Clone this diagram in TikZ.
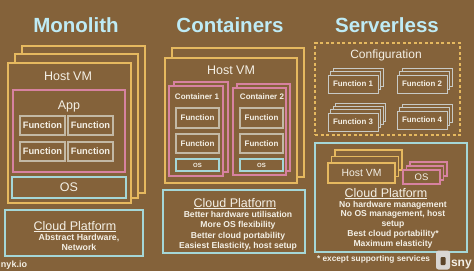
\documentclass[tikz,border=0pt]{standalone}
\usepackage{fontspec}
\setmainfont{Liberation Sans}
\definecolor{bg}{HTML}{84623A}
\definecolor{gold}{HTML}{E6B95F}
\definecolor{pinkc}{HTML}{D782A0}
\definecolor{cyanc}{HTML}{A5D7D7}
\definecolor{grayc}{HTML}{C3B9A5}
\definecolor{grayb}{HTML}{C8CAC6}
\definecolor{titlec}{HTML}{BEEBF5}
\definecolor{txt}{HTML}{F4F0E6}
\definecolor{logoc}{HTML}{D9D6D2}
\newcommand\rbox[7][]{\node[#1, minimum width={(#5-#3)*1pt}, minimum height={(#6-#4)*1pt}] (#2) at ({(#3+#5)/2},{(#4+#6)/2}) {#7};}
\begin{document}
\begin{tikzpicture}[x=1pt,y=-1pt,
  every node/.style={inner sep=0pt, outer sep=0pt, text=txt},
  ttl/.style={font=\bfseries\fontsize{20.5}{23}\selectfont, text=titlec},
  vm/.style={draw=gold, fill=bg, line width=1.2pt},
  pk/.style={draw=pinkc, fill=bg, line width=1.2pt},
  cy/.style={draw=cyanc, line width=1.2pt},
  fn/.style={draw=grayc, fill=bg, line width=1.1pt},
  sf/.style={draw=grayb, fill=bg, line width=1pt},
  cfg/.style={draw=gold, line width=1.2pt, dash pattern=on 3pt off 2.5pt},
  big/.style={font=\fontsize{12.5}{14}\selectfont},
  fnt/.style={font=\bfseries\fontsize{9.3}{11}\selectfont},
  fnc/.style={font=\bfseries\fontsize{8}{9}\selectfont},
  osc/.style={font=\bfseries\fontsize{6}{7}\selectfont},
  sfn/.style={font=\bfseries\fontsize{7.9}{9}\selectfont},
  body/.style={font=\bfseries\fontsize{8.6}{10.1}\selectfont, align=center},
]
\fill[bg] (0,0) rectangle (474,271);
\useasboundingbox (0,0) rectangle (474,271);

% titles
\node[ttl, anchor=base] (t1) at (76,32) {Monolith};
\node[ttl, anchor=base] (t2) at (230,32) {Containers};
\node[ttl, anchor=base] (t3) at (387,32) {Serverless};

% ---------------- Monolith
\rbox[vm]{m3}{22}{46}{145}{193}{}
\rbox[vm]{m2}{15}{54}{138}{198}{}
\rbox[vm]{m1}{8}{63}{131}{203}{}
\node[big] (mhv) at (68,76.5) {Host VM};
\rbox[pk]{mapp}{13}{90}{125}{172}{}
\node[big, anchor=base] (mapl) at (69,109) {App};
\rbox[fn,fnt]{mf1}{20}{116}{65}{135}{Function}
\rbox[fn,fnt]{mf2}{68}{116}{113}{135}{Function}
\rbox[fn,fnt]{mf3}{20}{142}{65}{161}{Function}
\rbox[fn,fnt]{mf4}{68}{142}{113}{161}{Function}
\rbox[cy,big]{mos}{12}{177}{126}{198}{OS}
\rbox[cy]{mcp}{5}{210}{143}{256}{}
\node[big, anchor=base] (mcpt) at (75,230) {\underline{Cloud Platform}};
\node[body, anchor=north, font=\bfseries\fontsize{8.8}{9.3}\selectfont] (mcpb) at (79,234.5) {Abstract Hardware,\\Network};

% ---------------- Containers
\rbox[vm]{c3}{172}{48}{304}{177}{}
\rbox[vm]{c2}{165}{58}{297}{183}{}
\node[big] (chv) at (231,70.5) {Host VM};
\rbox[pk]{k1b}{174}{82}{228}{172}{}
\rbox[pk]{k1}{169}{86}{223}{176}{}
\node[fnc] (k1l) at (197,96.5) {Container 1};
\rbox[fn,fnc]{k1f1}{176}{108}{219}{128}{Function}
\rbox[fn,fnc]{k1f2}{176}{134}{219}{153}{Function}
\rbox[cy,osc]{k1os}{176}{159}{219}{171}{OS}
\rbox[pk]{k2b}{237}{84}{290}{171}{}
\rbox[pk]{k2}{233}{88}{286}{175}{}
\node[fnc] (k2l) at (262,96.5) {Container 2};
\rbox[fn,fnc]{k2f1}{240}{108}{283}{128}{Function}
\rbox[fn,fnc]{k2f2}{240}{134}{283}{153}{Function}
\rbox[cy,osc]{k2os}{240}{159}{283}{171}{OS}
\rbox[cy]{ccp}{163}{190}{305}{253}{}
\node[big, anchor=base] (ccpt) at (235,207) {\underline{Cloud Platform}};
\node[body, anchor=north] (ccpb) at (238,211.6) {Better hardware utilisation\\More OS flexibility\\Better cloud portability\\Easiest Elasticity, host setup};

% ---------------- Serverless
\rbox[cfg]{scfg}{315}{43}{460}{135}{}
\node[big, anchor=base, font=\fontsize{12}{14}\selectfont] (scl) at (386,58.5) {Configuration};
% function 1
\rbox[sf]{s1c}{333}{68.4}{383}{86.4}{}
\rbox[sf]{s1b}{330.5}{71.7}{380.5}{89.7}{}
\rbox[sf,sfn]{s1}{328}{75}{378}{93}{Function 1}
% function 2
\rbox[sf]{s2c}{402}{68.4}{452}{86.4}{}
\rbox[sf]{s2b}{399.5}{71.7}{449.5}{89.7}{}
\rbox[sf,sfn]{s2}{397}{75}{447}{93}{Function 2}
% function 3
\rbox[sf]{s3d}{335.5}{103}{385.5}{121}{}
\rbox[sf]{s3c}{333}{106.4}{383}{124.4}{}
\rbox[sf]{s3b}{330.5}{109.7}{380.5}{127.7}{}
\rbox[sf,sfn]{s3}{328}{113}{378}{131}{Function 3}
% function 4
\rbox[sf]{s4c}{402}{104.4}{452}{122.4}{}
\rbox[sf]{s4b}{399.5}{107.7}{449.5}{125.7}{}
\rbox[sf,sfn]{s4}{397}{111}{447}{129}{Function 4}

\rbox[cy]{scp}{315}{143}{467}{252}{}
\rbox[vm]{shv3}{335}{150}{402}{170}{}
\rbox[vm]{shv2}{331.5}{156.5}{398.5}{176.5}{}
\rbox[vm,font=\fontsize{10.4}{12}\selectfont]{shv}{328}{163}{395}{183}{Host VM}
\rbox[pk]{sos3}{410}{162}{447}{176}{}
\rbox[pk]{sos2}{406.5}{166}{443.5}{180}{}
\rbox[pk,font=\fontsize{9.5}{11}\selectfont]{sos}{403}{170}{440}{184}{OS}
\node[big, anchor=base] (scpt) at (386,197) {\underline{Cloud Platform}};
\node[body, anchor=north, font=\bfseries\fontsize{8.6}{9.9}\selectfont] (scpb) at (393,200.8) {No hardware management\\No OS management, host\\setup\\Best cloud portability*\\Maximum elasticity};

% footnote, logo, site
\node[anchor=base west, font=\bfseries\fontsize{8.3}{10}\selectfont] (fnote) at (317,261.5) {* except supporting services};
\node[fill=logoc, rounded corners=2.5pt, minimum width=14pt, minimum height=19pt] (logo) at (443,260) {};
\node[fill=bg!70!black, minimum width=5pt, minimum height=8pt, rounded corners=1pt] (logoface) at (443,261) {};
\node[anchor=base west, font=\bfseries\fontsize{12}{14}\selectfont] (sny) at (451,266) {sny};
\node[anchor=base west, font=\bfseries\fontsize{9}{11}\selectfont] (site) at (1,267.8) {nyk.io};
\end{tikzpicture}
\end{document}
